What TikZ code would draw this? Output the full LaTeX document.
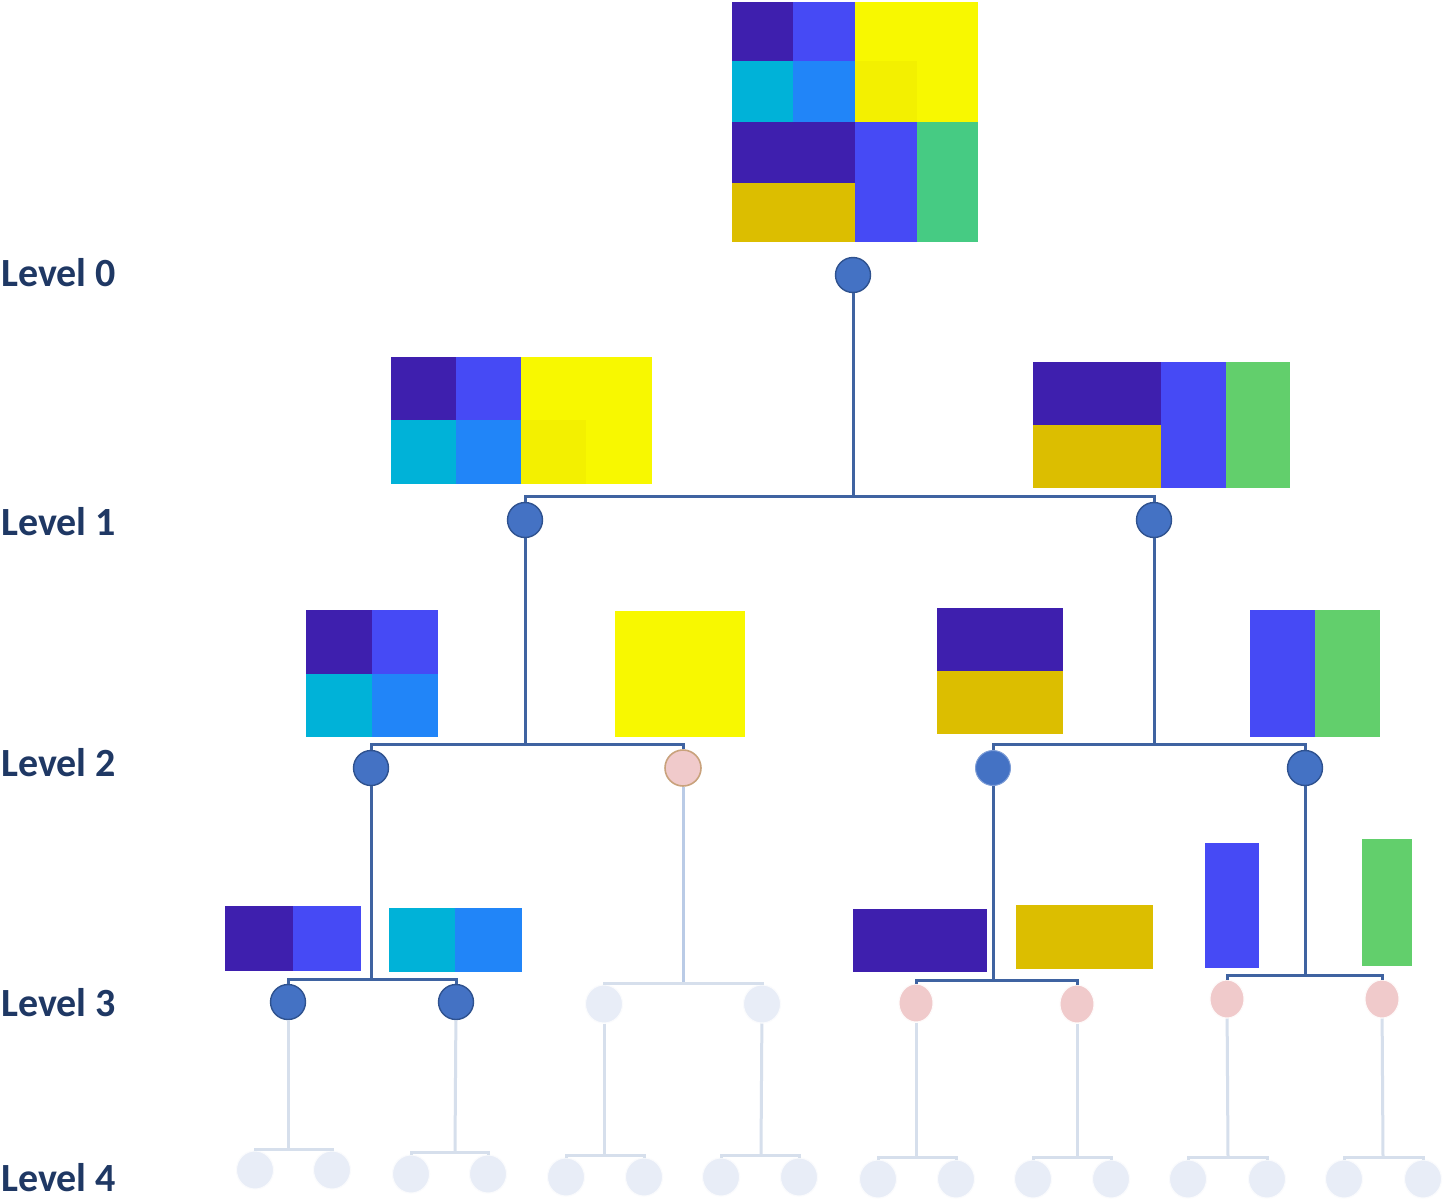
\documentclass[tikz,border=0pt]{standalone}
\usepackage{fontspec}
\setmainfont{Carlito}
\usetikzlibrary{shapes.geometric}
\definecolor{cpurple}{HTML}{3E1FAE}
\definecolor{cblue}{HTML}{464AF5}
\definecolor{cyellow}{HTML}{F8F800}
\definecolor{cyellowb}{HTML}{F3F000}
\definecolor{ccyan}{HTML}{00B2D8}
\definecolor{cazure}{HTML}{2185F8}
\definecolor{cgold}{HTML}{DCBE00}
\definecolor{cteal}{HTML}{46CB83}
\definecolor{cgreen}{HTML}{62CF6C}
\definecolor{nodefill}{HTML}{4472C4}
\definecolor{nodeline}{HTML}{2F528F}
\definecolor{linkcol}{HTML}{3F63A1}
\definecolor{lightlink}{HTML}{D6DFEC}
\definecolor{lightlinkb}{HTML}{BACBE6}
\definecolor{lightfill}{HTML}{E8EDF7}
\definecolor{pinkfill}{HTML}{F0CACB}
\definecolor{tanline}{HTML}{C9A27C}
\definecolor{labelcol}{HTML}{1F3864}
\tikzset{
  dnode/.style={circle, fill=nodefill, draw=nodeline, line width=1.4pt, minimum size=35pt, inner sep=0pt},
  dnodesoft/.style={circle, fill=nodefill, draw=nodefill!70!white, line width=1pt, minimum size=35pt, inner sep=0pt},
  pnodeb/.style={circle, fill=pinkfill, draw=tanline, line width=1.6pt, minimum size=36pt, inner sep=0pt},
  pnode/.style={ellipse, fill=pinkfill, draw=white!90!pinkfill, line width=1pt, minimum width=34pt, minimum height=38pt, inner sep=0pt},
  lnode/.style={ellipse, fill=lightfill, draw=white!80!lightfill, line width=1pt, minimum width=37pt, minimum height=38pt, inner sep=0pt},
  link/.style={draw=linkcol, line width=3pt},
  llink/.style={draw=lightlink, line width=3pt},
  llinkb/.style={draw=lightlinkb, line width=3pt},
  lvl/.style={anchor=west, inner sep=0pt, text=labelcol, font=\fontsize{40}{42}\selectfont\bfseries}
}
\begin{document}
\begin{tikzpicture}[x=1pt, y=-1pt]
\useasboundingbox (0,0) rectangle (1446,1204);
\fill[white] (0,0) rectangle (1446,1204);

% ---------- level labels ----------
\node[lvl] (L0) at (1,273) {Level 0};
\node[lvl] (L1) at (1,522) {Level 1};
\node[lvl] (L2) at (1,763) {Level 2};
\node[lvl] (L3) at (1,1003) {Level 3};
\node[lvl] (L4) at (1,1178) {Level 4};

% ---------- level 0 image ----------
\fill[cpurple] (732,2) rectangle (793,61);
\fill[cblue] (793,2) rectangle (855,61);
\fill[cyellow] (855,2) rectangle (978,122);
\fill[cyellowb] (855,61) rectangle (917,122);
\fill[ccyan] (732,61) rectangle (793,122);
\fill[cazure] (793,61) rectangle (855,122);
\fill[cpurple] (732,122) rectangle (855,183);
\fill[cgold] (732,183) rectangle (855,242);
\fill[cblue] (855,122) rectangle (917,242);
\fill[cteal] (917,122) rectangle (978,242);

% ---------- level 1 images ----------
\fill[cpurple] (391,357) rectangle (456,420);
\fill[cblue] (456,357) rectangle (521,420);
\fill[ccyan] (391,420) rectangle (456,484);
\fill[cazure] (456,420) rectangle (521,484);
\fill[cyellow] (521,357) rectangle (652,484);
\fill[cyellowb] (521,420) rectangle (586,484);

\fill[cpurple] (1033,362) rectangle (1161,425);
\fill[cgold] (1033,425) rectangle (1161,488);
\fill[cblue] (1161,362) rectangle (1226,488);
\fill[cgreen] (1226,362) rectangle (1290,488);

% ---------- level 2 images ----------
\fill[cpurple] (306,610) rectangle (372,674);
\fill[cblue] (372,610) rectangle (438,674);
\fill[ccyan] (306,674) rectangle (372,737);
\fill[cazure] (372,674) rectangle (438,737);

\fill[cyellow] (615,611) rectangle (745,737);

\fill[cpurple] (937,608) rectangle (1063,671);
\fill[cgold] (937,671) rectangle (1063,734);

\fill[cblue] (1250,610) rectangle (1315,737);
\fill[cgreen] (1315,610) rectangle (1380,737);

% ---------- level 3 images ----------
\fill[cpurple] (225,906) rectangle (293,971);
\fill[cblue] (293,906) rectangle (361,971);
\fill[ccyan] (389,908) rectangle (455,972);
\fill[cazure] (455,908) rectangle (522,972);

\fill[cpurple] (853,909) rectangle (987,972);
\fill[cgold] (1016,905) rectangle (1153,969);
\fill[cblue] (1205,843) rectangle (1259,968);
\fill[cgreen] (1362,839) rectangle (1412,966);

% ---------- nodes ----------
\node[dnode] (n0) at (853,275) {};
\node[dnode] (n1a) at (525,520) {};
\node[dnode] (n1b) at (1154,520) {};
\node[dnode] (n2a) at (371,768) {};
\node[pnodeb] (n2b) at (683,768) {};
\node[dnodesoft] (n2c) at (993,768) {};
\node[dnode] (n2d) at (1305,768) {};
\node[dnode] (n3a) at (288,1002) {};
\node[dnode] (n3b) at (456,1002) {};
\node[lnode] (n3c) at (604,1004) {};
\node[lnode] (n3d) at (762,1004) {};
\node[pnode] (n3e) at (916,1003) {};
\node[pnode] (n3f) at (1077,1004) {};
\node[pnode] (n3g) at (1227,999) {};
\node[pnode] (n3h) at (1382,999) {};

\node[lnode] (n4a) at (255,1170) {};
\node[lnode] (n4b) at (332,1170) {};
\node[lnode] (n4c) at (411,1174) {};
\node[lnode] (n4d) at (488,1174) {};
\node[lnode] (n4e) at (566,1177) {};
\node[lnode] (n4f) at (644,1177) {};
\node[lnode] (n4g) at (721,1177) {};
\node[lnode] (n4h) at (799,1177) {};
\node[lnode] (n4i) at (878,1179) {};
\node[lnode] (n4j) at (956,1179) {};
\node[lnode] (n4k) at (1033,1179) {};
\node[lnode] (n4l) at (1111,1179) {};
\node[lnode] (n4m) at (1188,1179) {};
\node[lnode] (n4n) at (1267,1179) {};
\node[lnode] (n4o) at (1344,1179) {};
\node[lnode] (n4p) at (1423,1179) {};

% ---------- bar points ----------
\coordinate (b0) at (853,496);
\coordinate (b1a) at (525,744);
\coordinate (b1b) at (1154,744);
\coordinate (b2a) at (371,979);
\coordinate (b2b) at (683,983);
\coordinate (b2c) at (993,980);
\coordinate (b2d) at (1305,975);
\coordinate (b3a) at (288,1149);
\coordinate (b3b) at (455,1152);
\coordinate (b3c) at (604,1155);
\coordinate (b3d) at (761,1155);
\coordinate (b3e) at (916,1157);
\coordinate (b3f) at (1077,1157);
\coordinate (b3g) at (1228,1157);
\coordinate (b3h) at (1383,1157);

% ---------- connectors ----------
\draw[link] (n0) -- (b0);
\draw[link] (b0) -| (n1a);
\draw[link] (b0) -| (n1b);

\draw[link] (n1a) -- (b1a);
\draw[link] (b1a) -| (n2a);
\draw[link] (b1a) -| (n2b);
\draw[link] (n1b) -- (b1b);
\draw[link] (b1b) -| (n2c);
\draw[link] (b1b) -| (n2d);

\draw[link] (n2a) -- (b2a);
\draw[link] (b2a) -| (n3a);
\draw[link] (b2a) -| (n3b);
\draw[llinkb] (n2b) -- (b2b);
\draw[llink] (b2b) -| (n3c);
\draw[llink] (b2b) -| (n3d);
\draw[link] (n2c) -- (b2c);
\draw[link] (b2c) -| (n3e);
\draw[link] (b2c) -| (n3f);
\draw[link] (n2d) -- (b2d);
\draw[link] (b2d) -| (n3g);
\draw[link] (b2d) -| (n3h);

\draw[llink] (n3a) -- (b3a);
\draw[llink] (b3a) -| (n4a);
\draw[llink] (b3a) -| (n4b);
\draw[llink] (n3b) -- (b3b);
\draw[llink] (b3b) -| (n4c);
\draw[llink] (b3b) -| (n4d);
\draw[llink] (n3c) -- (b3c);
\draw[llink] (b3c) -| (n4e);
\draw[llink] (b3c) -| (n4f);
\draw[llink] (n3d) -- (b3d);
\draw[llink] (b3d) -| (n4g);
\draw[llink] (b3d) -| (n4h);
\draw[llink] (n3e) -- (b3e);
\draw[llink] (b3e) -| (n4i);
\draw[llink] (b3e) -| (n4j);
\draw[llink] (n3f) -- (b3f);
\draw[llink] (b3f) -| (n4k);
\draw[llink] (b3f) -| (n4l);
\draw[llink] (n3g) -- (b3g);
\draw[llink] (b3g) -| (n4m);
\draw[llink] (b3g) -| (n4n);
\draw[llink] (n3h) -- (b3h);
\draw[llink] (b3h) -| (n4o);
\draw[llink] (b3h) -| (n4p);
\end{tikzpicture}
\end{document}
